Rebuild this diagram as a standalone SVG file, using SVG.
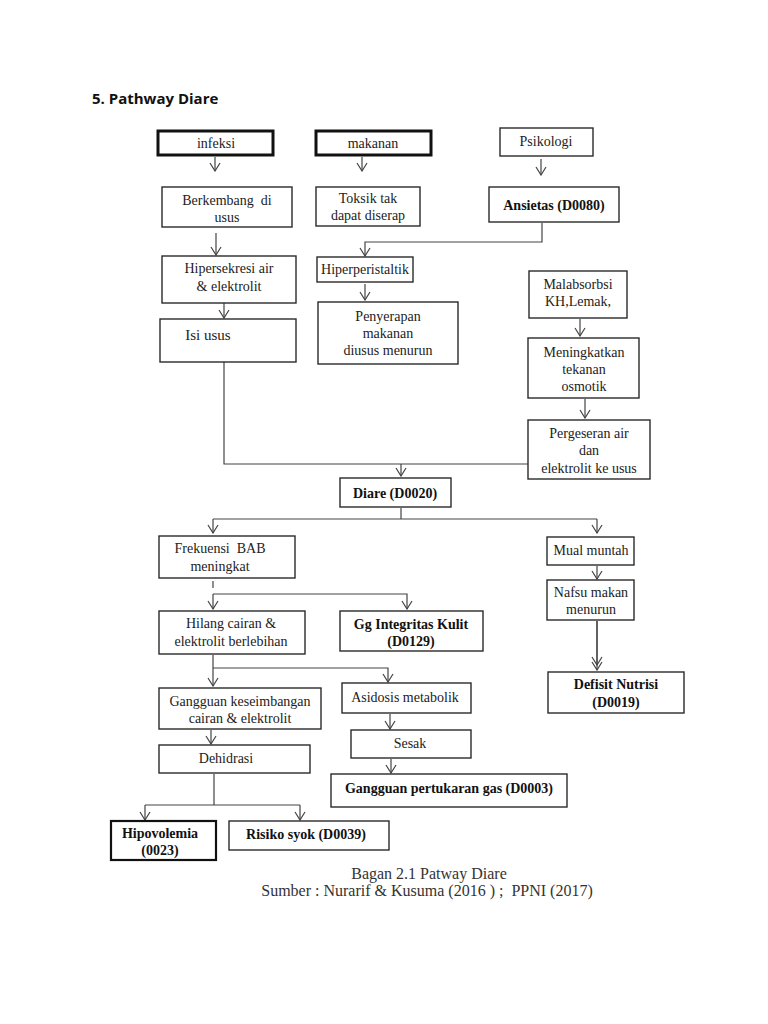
<svg xmlns="http://www.w3.org/2000/svg" width="768" height="1024" viewBox="0 0 768 1024">
<style>
.b{fill:#fff;stroke:#2a2a2a;stroke-width:1.4}
.tk{fill:#fff;stroke:#111;stroke-width:3}
.m{fill:#fff;stroke:#111;stroke-width:2.2}
text{font-family:"Liberation Serif","Times New Roman",serif;font-size:14px;fill:#222;text-anchor:middle;white-space:pre}
.bd{font-weight:bold;fill:#111}
.c{fill:none;stroke:#444;stroke-width:1.2}
.cap{font-size:16px;fill:#333}
.ttl{font-family:"Open Sans","Liberation Sans",sans-serif;font-weight:bold;font-size:15px;text-anchor:start;fill:#111}
</style>
<defs>
<marker id="a" viewBox="0 0 12 12" refX="11" refY="6" markerWidth="12" markerHeight="12" markerUnits="userSpaceOnUse" orient="auto">
<path d="M3,1 L11,6 L3,11" fill="none" stroke="#444" stroke-width="1.2"/>
</marker>
</defs>
<rect width="768" height="1024" fill="#fff"/>
<text class="ttl" x="92" y="104">5. Pathway Diare</text>

<g id="connectors">
<path class="c" d="M215,157 V171" marker-end="url(#a)"/>
<path class="c" d="M362,157 V171" marker-end="url(#a)"/>
<path class="c" d="M541,159 V175" marker-end="url(#a)"/>
<path class="c" d="M542,223 V242 H365 V256" marker-end="url(#a)"/>
<path class="c" d="M216,233 V255" marker-end="url(#a)"/>
<path class="c" d="M224,282 V318" marker-end="url(#a)" stroke-width="1.6"/>
<path class="c" d="M365,284 V300" marker-end="url(#a)"/>
<path class="c" d="M580,319 V336" marker-end="url(#a)"/>
<path class="c" d="M585,399 V418" marker-end="url(#a)"/>
<path class="c" d="M224,362 V464 H528" stroke-width="1.5"/>
<path class="c" d="M401,464 V476" marker-end="url(#a)"/>
<path class="c" d="M401,508 V519"/>
<path class="c" d="M213,519 H597"/>
<path class="c" d="M213,519 V533" marker-end="url(#a)"/>
<path class="c" d="M597,519 V533" marker-end="url(#a)"/>
<path class="c" d="M597,566 V579" marker-end="url(#a)"/>
<path class="c" d="M597,621 V670" marker-end="url(#a)"/>
<path class="c" d="M597,621 V665" marker-end="url(#a)"/>
<path class="c" d="M213,581 V588"/>
<path class="c" d="M213,594 V609" marker-end="url(#a)"/>
<path class="c" d="M213,594 H407 V609" marker-end="url(#a)"/>
<path class="c" d="M213,655 V686" marker-end="url(#a)"/>
<path class="c" d="M213,668 H388 V682" marker-end="url(#a)"/>
<path class="c" d="M390,714 V729" marker-end="url(#a)"/>
<path class="c" d="M391,759 V773" marker-end="url(#a)"/>
<path class="c" d="M211,730 V744" marker-end="url(#a)"/>
<path class="c" d="M214,774 V805 M145,805 H300"/>
<path class="c" d="M145,805 V820" marker-end="url(#a)"/>
<path class="c" d="M300,805 V820" marker-end="url(#a)"/>
</g>

<g id="infeksi"><rect class="tk" x="158" y="131" width="115" height="24"/><text x="216" y="148">infeksi</text></g>
<g id="makanan"><rect class="tk" x="316" y="131" width="115" height="24"/><text x="373" y="148">makanan</text></g>
<g id="psikologi"><rect class="b" x="500" y="128" width="93" height="28"/><text x="546" y="146">Psikologi</text></g>

<g id="berkembang"><rect class="b" x="162" y="187" width="130" height="40"/><text x="227" y="205">Berkembang  di</text><text x="227" y="222">usus</text></g>
<g id="toksik"><rect class="b" x="316" y="187" width="104" height="39"/><text x="368" y="203">Toksik tak</text><text x="368" y="220">dapat diserap</text></g>
<g id="ansietas"><rect class="b" x="489" y="187" width="130" height="35" stroke-width="1.8"/><text class="bd" x="554" y="210">Ansietas (D0080)</text></g>

<g id="hipersekresi"><rect class="b" x="162" y="256" width="134" height="47"/><text x="229" y="273">Hipersekresi air</text><text x="229" y="291">&amp; elektrolit</text></g>
<g id="hiperperistaltik"><rect class="b" x="317" y="257" width="96" height="25" stroke-width="1.8"/><text x="365" y="274">Hiperperistaltik</text></g>
<g id="isiusus"><rect class="b" x="160" y="319" width="136" height="43"/><text x="208" y="340" style="font-size:15px">Isi usus</text></g>
<g id="penyerapan"><rect class="b" x="318" y="302" width="140" height="62"/><text x="388" y="321">Penyerapan</text><text x="388" y="338">makanan</text><text x="388" y="355">diusus menurun</text></g>

<g id="malabsorbsi"><rect class="b" x="529" y="271" width="98" height="47"/><text x="578" y="289">Malabsorbsi</text><text x="578" y="306">KH,Lemak,</text></g>
<g id="meningkatkan"><rect class="b" x="528" y="338" width="111" height="60"/><text x="584" y="357">Meningkatkan</text><text x="584" y="374">tekanan</text><text x="584" y="391">osmotik</text></g>
<g id="pergeseran"><rect class="b" x="528" y="420" width="122" height="59"/><text x="589" y="438">Pergeseran air</text><text x="589" y="455">dan</text><text x="589" y="473">elektrolit ke usus</text></g>

<g id="diare"><rect class="b" x="340" y="478" width="111" height="29" stroke-width="1.8"/><text class="bd" x="395" y="498">Diare (D0020)</text></g>

<g id="frekuensi"><rect class="b" x="159" y="536" width="136" height="42"/><text x="220" y="553">Frekuensi  BAB</text><text x="220" y="571">meningkat</text></g>
<g id="mual"><rect class="b" x="547" y="537" width="87" height="28"/><text x="591" y="555">Mual muntah</text></g>
<g id="nafsu"><rect class="b" x="547" y="580" width="87" height="40"/><text x="591" y="597">Nafsu makan</text><text x="591" y="614">menurun</text></g>

<g id="hilang"><rect class="b" x="159" y="611" width="146" height="43"/><text x="231" y="628">Hilang cairan &amp;</text><text x="231" y="646">elektrolit berlebihan</text></g>
<g id="integritas"><rect class="b" x="340" y="611" width="143" height="40"/><text class="bd" x="411" y="629">Gg Integritas Kulit</text><text class="bd" x="411" y="646">(D0129)</text></g>
<g id="defisit"><rect class="b" x="548" y="672" width="136" height="41"/><text class="bd" x="616" y="689">Defisit Nutrisi</text><text class="bd" x="616" y="707">(D0019)</text></g>

<g id="keseimbangan"><rect class="b" x="159" y="688" width="162" height="41"/><text x="240" y="706">Gangguan keseimbangan</text><text x="240" y="723">cairan &amp; elektrolit</text></g>
<g id="asidosis"><rect class="b" x="342" y="683" width="129" height="30"/><text x="405" y="702">Asidosis metabolik</text></g>
<g id="sesak"><rect class="b" x="351" y="730" width="120" height="28"/><text x="410" y="748">Sesak</text></g>
<g id="gasexchange"><rect class="b" x="331" y="774" width="236" height="33"/><text class="bd" x="449" y="793">Gangguan pertukaran gas (D0003)</text></g>
<g id="dehidrasi"><rect class="b" x="159" y="745" width="151" height="28"/><text x="226" y="763">Dehidrasi</text></g>

<g id="hipovolemia"><rect class="m" x="111" y="821" width="105" height="39"/><text class="bd" x="160" y="838">Hipovolemia</text><text class="bd" x="160" y="855">(0023)</text></g>
<g id="risiko"><rect class="b" x="229" y="821" width="160" height="29" stroke-width="1.8"/><text class="bd" x="306" y="839">Risiko syok (D0039)</text></g>

<text class="cap" x="429" y="879">Bagan 2.1 Patway Diare</text>
<text class="cap" x="427" y="896">Sumber : Nurarif &amp; Kusuma (2016 ) ;  PPNI (2017)</text>
</svg>
